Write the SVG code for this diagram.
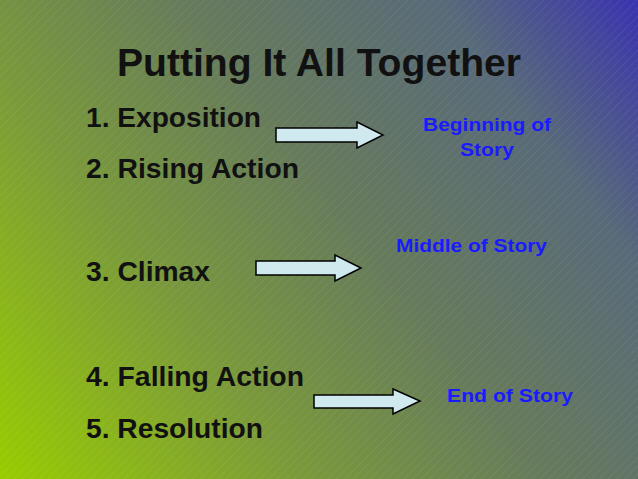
<svg xmlns="http://www.w3.org/2000/svg" width="638" height="479" viewBox="0 0 638 479">
<defs>
<linearGradient id="bg" x1="0" y1="479" x2="638" y2="0" gradientUnits="userSpaceOnUse">
<stop offset="0" stop-color="#99cc00"/>
<stop offset="0.3" stop-color="#7a9a3a"/>
<stop offset="0.55" stop-color="#667a5c"/>
<stop offset="0.8" stop-color="#586a78"/>
<stop offset="1" stop-color="#3a33b0"/>
</linearGradient>
<pattern id="hatch" width="6" height="6" patternUnits="userSpaceOnUse" patternTransform="rotate(-45)">
<rect width="6" height="1" fill="#ffffff" opacity="0.06"/>
</pattern>
</defs>
<style>
.t{font-family:"Liberation Sans",Arial,sans-serif;font-weight:bold;fill:#111}
.b{font-family:"Liberation Sans",Arial,sans-serif;font-weight:bold;fill:#1a1aff;font-size:19px}
.arr{fill:#cfe9ef;stroke:#000;stroke-width:1.5}
</style>
<rect width="638" height="479" fill="url(#bg)"/>
<rect width="638" height="479" fill="url(#hatch)"/>
<g id="title"><text class="t" x="117" y="76" font-size="39" textLength="404" lengthAdjust="spacingAndGlyphs">Putting It All Together</text></g>
<g id="list">
<text class="t" x="86" y="127" font-size="27" textLength="175" lengthAdjust="spacingAndGlyphs">1. Exposition</text>
<text class="t" x="86" y="178" font-size="27" textLength="213" lengthAdjust="spacingAndGlyphs">2. Rising Action</text>
<text class="t" x="86" y="281" font-size="27" textLength="124" lengthAdjust="spacingAndGlyphs">3. Climax</text>
<text class="t" x="86" y="386" font-size="27" textLength="218" lengthAdjust="spacingAndGlyphs">4. Falling Action</text>
<text class="t" x="86" y="438" font-size="27" textLength="177" lengthAdjust="spacingAndGlyphs">5. Resolution</text>
</g>
<g id="labels">
<text class="b" x="423" y="131" textLength="128" lengthAdjust="spacingAndGlyphs">Beginning of</text>
<text class="b" x="460" y="156" textLength="54" lengthAdjust="spacingAndGlyphs">Story</text>
<text class="b" x="396" y="252" textLength="151" lengthAdjust="spacingAndGlyphs">Middle of Story</text>
<text class="b" x="447" y="402" textLength="126" lengthAdjust="spacingAndGlyphs">End of Story</text>
</g>
<g id="connectors">
<polygon class="arr" points="276,128 357,128 357,122 383,135 357,148 357,142 276,142"/>
<polygon class="arr" points="256,261 335,261 335,255 361,268 335,281 335,275 256,275"/>
<polygon class="arr" points="314,395 393,395 393,389 420,401 393,414 393,408 314,408"/>
</g>
</svg>
